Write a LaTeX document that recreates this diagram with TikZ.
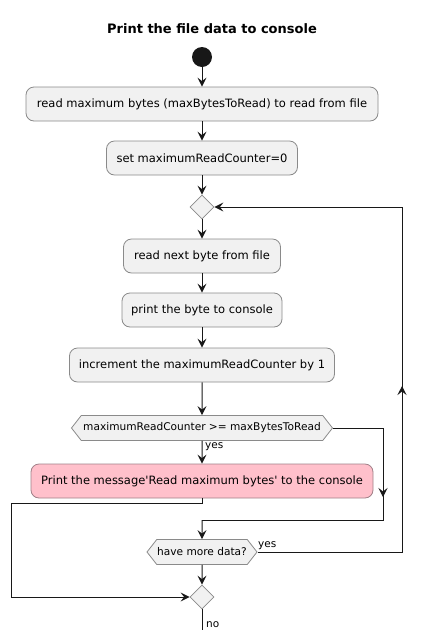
\documentclass[tikz,border=0pt]{standalone}
\usepackage{fontspec}
\setmainfont{DejaVu Sans}
\usepackage{tikz}
\usetikzlibrary{positioning,arrows.meta,shapes.geometric,shapes.symbols}

\definecolor{actfill}{HTML}{F1F1F1}
\definecolor{actline}{HTML}{8A8A8A}
\definecolor{warnfill}{HTML}{FFC0CB}
\definecolor{warnline}{HTML}{A08088}
\definecolor{ink}{HTML}{181818}

\tikzset{
  act/.style={draw=actline, fill=actfill, rounded corners=8pt, minimum height=34pt,
    inner sep=0pt, font=\fontsize{11.5}{13}\selectfont, line width=0.8pt},
  warn/.style={act, draw=warnline, fill=warnfill},
  cond/.style={signal, signal to=west and east, signal pointer angle=104, draw=actline,
    fill=actfill, minimum height=25pt, inner sep=0pt, font=\fontsize{10.6}{12}\selectfont, line width=0.8pt},
  merge/.style={diamond, draw=actline, fill=actfill, minimum size=24pt, inner sep=0pt, line width=0.8pt},
  flow/.style={draw=ink, line width=1pt, -{Stealth[length=9pt,width=9pt,inset=3.5pt]}},
  wire/.style={draw=ink, line width=1pt},
  lbl/.style={font=\fontsize{10.5}{12}\selectfont, inner sep=1pt}
}

\begin{document}
\begin{tikzpicture}[x=1pt,y=-1pt]
\useasboundingbox (0,0) rectangle (426,630);

\node[font=\bfseries\fontsize{13}{15}\selectfont] (title) at (212,29) {Print the file data to console};

\node[circle, fill=ink, minimum size=20pt, inner sep=0pt] (start) at (202,57) {};

\node[act, minimum width=352pt] (readmax) at (202,104) {read maximum bytes (maxBytesToRead) to read from file};
\node[act, minimum width=191pt] (setcnt) at (202,158) {set maximumReadCounter=0};
\node[merge] (loop) at (202,207) {};
\node[act, minimum width=157pt] (readbyte) at (202,256) {read next byte from file};
\node[act, minimum width=160pt] (printbyte) at (202,310) {print the byte to console};
\node[act, minimum width=265pt] (inccnt) at (202,365) {increment the maximumReadCounter by 1};
\node[cond, minimum width=261pt] (maxcheck) at (202,428) {maximumReadCounter >= maxBytesToRead};
\node[warn, minimum width=342pt] (printmsg) at (202,481) {Print the message\textquotesingle Read maximum bytes\textquotesingle{} to the console};
\node[cond, minimum width=110pt] (moredata) at (202,552) {have more data?};
\node[merge] (done) at (202,597) {};

% main column
\draw[flow] (start) -- (readmax);
\draw[flow] (readmax) -- (setcnt);
\draw[flow] (setcnt) -- (loop);
\draw[flow] (loop) -- (readbyte);
\draw[flow] (readbyte) -- (printbyte);
\draw[flow] (printbyte) -- (inccnt);
\draw[flow] (inccnt) -- (maxcheck);
\draw[flow] (maxcheck) -- (printmsg);
\node[lbl, anchor=north west] (yes1) at (204,441) {yes};

% not yet at the limit
\coordinate (nr1) at (383,428);
\coordinate (nr2) at (383,520);
\coordinate (nrm) at (383,497);
\coordinate (nj) at (202,520);
\draw[wire] (maxcheck.east) -- (nr1) -- (nr2) -- (nj);
\draw[flow] (nr1) -- (nrm);
\draw[flow] (nj) -- (moredata);

% limit reached
\coordinate (lm1) at (202,503);
\coordinate (lm2) at (11,503);
\coordinate (lm3) at (11,597);
\draw[wire] (printmsg.south) -- (lm1) -- (lm2) -- (lm3);
\draw[flow] (lm3) -- (done);

% loop back
\coordinate (bk1) at (402,552);
\coordinate (bk2) at (402,207);
\coordinate (bkm) at (402,386);
\draw[wire] (moredata.east) -- (bk1) -- (bk2);
\draw[flow] (bk2) -- (loop);
\draw[flow] (bk1) -- (bkm);
\node[lbl, anchor=south west] (yes2) at (257,551) {yes};

\draw[flow] (moredata) -- (done);
\coordinate (out) at (202,632);
\draw[wire] (done) -- (out);
\node[lbl, inner sep=0pt, anchor=base west] (no) at (206,627) {no};

\end{tikzpicture}
\end{document}
